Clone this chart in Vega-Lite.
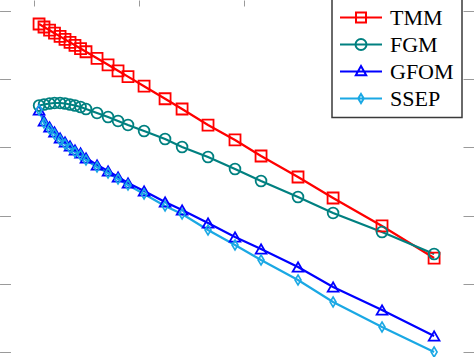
{
  "$schema": "https://vega.github.io/schema/vega-lite/v6.json",
  "width": 474,
  "height": 357,
  "autosize": {"type": "none"},
  "padding": 0,
  "background": "white",
  "config": {"view": {"stroke": null}, "legend": {"labelFont": "Liberation Serif", "labelFontSize": 22}},
  "datasets": {
    "pts": [
      {"s":"TMM","x":0.048,"y":4.809},{"s":"TMM","x":0.095,"y":4.765},{"s":"TMM","x":0.148,"y":4.718},{"s":"TMM","x":0.195,"y":4.674},{"s":"TMM","x":0.248,"y":4.628},{"s":"TMM","x":0.295,"y":4.584},{"s":"TMM","x":0.343,"y":4.540},{"s":"TMM","x":0.39,"y":4.497},{"s":"TMM","x":0.443,"y":4.449},{"s":"TMM","x":0.495,"y":4.402},{"s":"TMM","x":0.6,"y":4.306},{"s":"TMM","x":0.705,"y":4.211},{"s":"TMM","x":0.8,"y":4.123},{"s":"TMM","x":0.895,"y":4.037},{"s":"TMM","x":1.048,"y":3.897},{"s":"TMM","x":1.248,"y":3.713},{"s":"TMM","x":1.41,"y":3.563},{"s":"TMM","x":1.657,"y":3.328},{"s":"TMM","x":1.914,"y":3.109},{"s":"TMM","x":2.162,"y":2.874},{"s":"TMM","x":2.514,"y":2.566},{"s":"TMM","x":2.848,"y":2.258},{"s":"TMM","x":3.314,"y":1.848},{"s":"TMM","x":3.81,"y":1.378},
      {"s":"FGM","x":0.048,"y":3.614},{"s":"FGM","x":0.095,"y":3.629},{"s":"FGM","x":0.148,"y":3.644},{"s":"FGM","x":0.195,"y":3.651},{"s":"FGM","x":0.248,"y":3.651},{"s":"FGM","x":0.295,"y":3.644},{"s":"FGM","x":0.343,"y":3.629},{"s":"FGM","x":0.39,"y":3.614},{"s":"FGM","x":0.443,"y":3.592},{"s":"FGM","x":0.495,"y":3.563},{"s":"FGM","x":0.6,"y":3.504},{"s":"FGM","x":0.705,"y":3.446},{"s":"FGM","x":0.8,"y":3.387},{"s":"FGM","x":0.895,"y":3.328},{"s":"FGM","x":1.048,"y":3.240},{"s":"FGM","x":1.248,"y":3.123},{"s":"FGM","x":1.41,"y":3.006},{"s":"FGM","x":1.657,"y":2.859},{"s":"FGM","x":1.914,"y":2.683},{"s":"FGM","x":2.162,"y":2.507},{"s":"FGM","x":2.514,"y":2.273},{"s":"FGM","x":2.848,"y":2.038},{"s":"FGM","x":3.314,"y":1.760},{"s":"FGM","x":3.81,"y":1.437},
      {"s":"GFOM","x":0.048,"y":3.548},{"s":"GFOM","x":0.095,"y":3.387},{"s":"GFOM","x":0.148,"y":3.299},{"s":"GFOM","x":0.195,"y":3.226},{"s":"GFOM","x":0.248,"y":3.138},{"s":"GFOM","x":0.295,"y":3.079},{"s":"GFOM","x":0.343,"y":3.021},{"s":"GFOM","x":0.39,"y":2.962},{"s":"GFOM","x":0.443,"y":2.918},{"s":"GFOM","x":0.495,"y":2.845},{"s":"GFOM","x":0.6,"y":2.742},{"s":"GFOM","x":0.705,"y":2.654},{"s":"GFOM","x":0.8,"y":2.566},{"s":"GFOM","x":0.895,"y":2.478},{"s":"GFOM","x":1.048,"y":2.361},{"s":"GFOM","x":1.248,"y":2.199},{"s":"GFOM","x":1.41,"y":2.082},{"s":"GFOM","x":1.657,"y":1.891},{"s":"GFOM","x":1.914,"y":1.686},{"s":"GFOM","x":2.162,"y":1.510},{"s":"GFOM","x":2.514,"y":1.246},{"s":"GFOM","x":2.848,"y":0.953},{"s":"GFOM","x":3.314,"y":0.616},{"s":"GFOM","x":3.81,"y":0.235},
      {"s":"SSEP","x":0.048,"y":3.548},{"s":"SSEP","x":0.095,"y":3.358},{"s":"SSEP","x":0.148,"y":3.270},{"s":"SSEP","x":0.195,"y":3.196},{"s":"SSEP","x":0.248,"y":3.109},{"s":"SSEP","x":0.295,"y":3.050},{"s":"SSEP","x":0.343,"y":2.991},{"s":"SSEP","x":0.39,"y":2.933},{"s":"SSEP","x":0.443,"y":2.889},{"s":"SSEP","x":0.495,"y":2.815},{"s":"SSEP","x":0.6,"y":2.713},{"s":"SSEP","x":0.705,"y":2.625},{"s":"SSEP","x":0.8,"y":2.537},{"s":"SSEP","x":0.895,"y":2.449},{"s":"SSEP","x":1.048,"y":2.317},{"s":"SSEP","x":1.248,"y":2.141},{"s":"SSEP","x":1.41,"y":2.023},{"s":"SSEP","x":1.657,"y":1.789},{"s":"SSEP","x":1.914,"y":1.569},{"s":"SSEP","x":2.162,"y":1.349},{"s":"SSEP","x":2.514,"y":1.056},{"s":"SSEP","x":2.848,"y":0.733},{"s":"SSEP","x":3.314,"y":0.367},{"s":"SSEP","x":3.81,"y":0.0}
    ],
    "ticks": [{"t": 0}]
  },
  "data": {"name": "pts"},
  "encoding": {
    "x": {
      "field": "x", "type": "quantitative",
      "scale": {"domain": [-0.324, 4.19], "nice": false, "zero": false},
      "axis": {"orient": "top", "values": [0, 1, 2, 3, 4], "labels": false, "domain": false, "grid": false, "title": null, "tickSize": 6, "offset": -6, "tickColor": "#9a9a9a", "tickWidth": 1}
    },
    "y": {
      "field": "y", "type": "quantitative",
      "scale": {"domain": [-0.073, 5.161], "nice": false, "zero": false},
      "axis": {"orient": "left", "values": [0, 1, 2, 3, 4, 5], "labels": false, "domain": false, "grid": false, "title": null, "tickSize": 10, "offset": -10, "tickColor": "#9a9a9a", "tickWidth": 1}
    },
    "color": {
      "field": "s", "type": "nominal",
      "scale": {"domain": ["TMM", "FGM", "GFOM", "SSEP"], "range": ["#ff0000", "#008080", "#0000ff", "#1aa8e4"]},
      "legend": {
        "title": null,
        "orient": "none",
        "legendX": 332,
        "legendY": -1.5,
        "padding": 8,
        "rowPadding": 5,
        "columnPadding": 0,
        "fillColor": "white",
        "strokeColor": "#3a3a3a",
        "symbolSize": 400,
        "symbolStrokeWidth": 2,
        "symbolType": "M-1.1,0H3.1",
        "labelOffset": 28,
        "labelColor": "black",
        "labelFont": "Liberation Serif",
        "labelFontSize": 22,
        "encode": {
          "legend": {"update": {"strokeWidth": {"value": 1.5}}},
          "labels": {"update": {"font": {"value": "Liberation Serif"}, "fontSize": {"value": 22}, "fill": {"value": "black"}}},
          "symbols": {
            "update": {
              "fill": {"value": "transparent"},
              "shape": {"signal": "datum.value === 'TMM' ? 'M-1.1,0H3.1M0.5,-0.5H1.5V0.5H0.5Z' : datum.value === 'FGM' ? 'M-1.1,0H3.1M1.55,0A0.55,0.55 0 1,1 0.45,0A0.55,0.55 0 1,1 1.55,0Z' : datum.value === 'GFOM' ? 'M-1.1,0H3.1M1,-0.55L1.52,0.38L0.48,0.38Z' : 'M-1.1,0H3.1M1,-0.45L1.28,0L1,0.45L0.72,0Z'"}
            }
          }
        }
      }
    }
  },
  "layer": [
    {"mark": {"type": "line", "strokeWidth": 2.2}},
    {"transform": [{"filter": "datum.s === 'TMM'"}], "mark": {"type": "point", "shape": "square", "size": 121, "filled": false, "strokeWidth": 1.8, "opacity": 1}},
    {"transform": [{"filter": "datum.s === 'FGM'"}], "mark": {"type": "point", "shape": "circle", "size": 115, "filled": false, "strokeWidth": 1.8, "opacity": 1}},
    {"transform": [{"filter": "datum.s === 'GFOM'"}], "mark": {"type": "point", "shape": "triangle-up", "size": 115, "filled": false, "strokeWidth": 1.8, "opacity": 1}},
    {"transform": [{"filter": "datum.s === 'SSEP'"}], "mark": {"type": "point", "shape": "M0,-1L0.6,0L0,1L-0.6,0Z", "size": 100, "filled": false, "strokeWidth": 1.6, "opacity": 1}},
    {
      "data": {"name": "ticks"},
      "mark": {"type": "rule", "opacity": 0},
      "encoding": {
        "x": {"datum": 0, "type": "quantitative"},
        "y": {"datum": 0, "type": "quantitative", "axis": {"orient": "right", "values": [0, 1, 2, 3, 4, 5], "labels": false, "domain": false, "grid": false, "title": null, "tickSize": 11, "offset": -11, "tickColor": "#9a9a9a", "tickWidth": 1}},
        "color": {"value": "black"}
      }
    }
  ],
  "resolve": {"axis": {"y": "independent"}}
}
